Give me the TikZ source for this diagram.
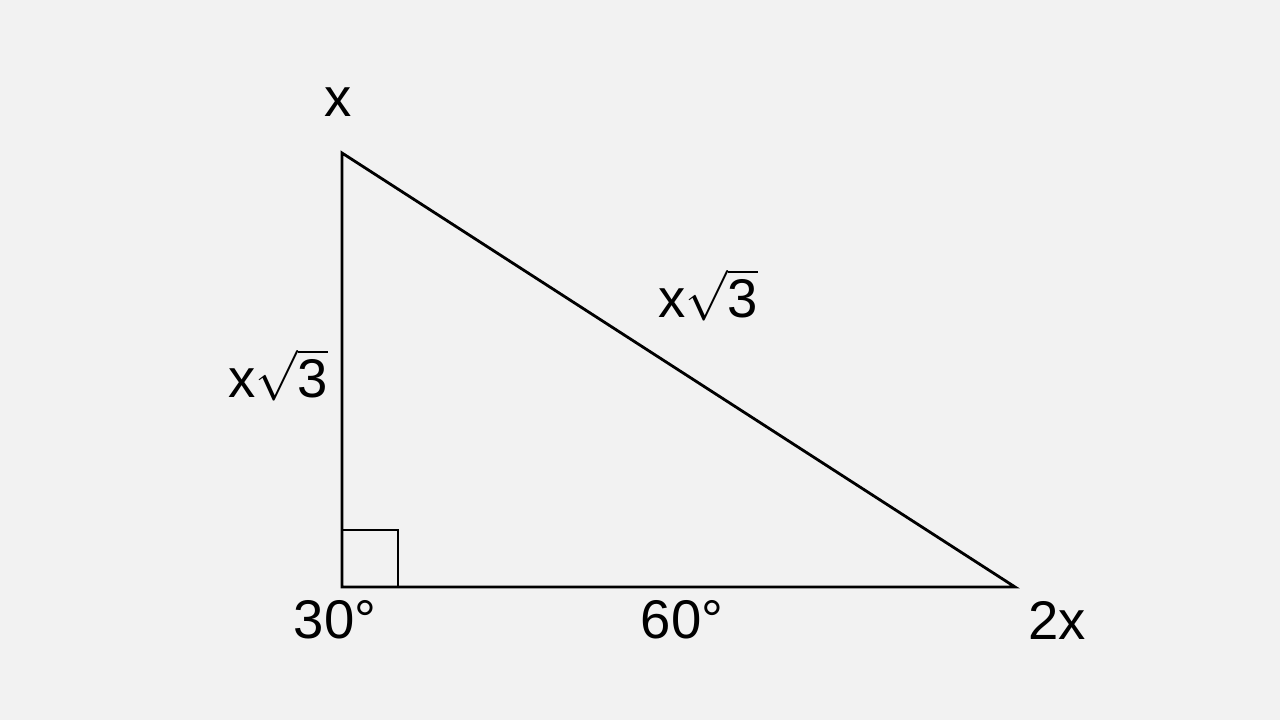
\documentclass[tikz,border=0pt]{standalone}
\usepackage{amsmath}
\usepackage{fontspec}
\setmainfont{Liberation Sans}
\usetikzlibrary{calc}
\definecolor{bgpaper}{HTML}{F2F2F2}

\begin{document}
\begin{tikzpicture}[scale=1.0,
    lbl/.style={font=\fontsize{15.5}{18}\selectfont, inner sep=0pt}]

    % Page background
    \fill[bgpaper] (0,0) rectangle (12.8,7.2);
    \useasboundingbox (0,0) rectangle (12.8,7.2);

    % Define coordinates for the corners
    \coordinate (A) at (3.42,5.67); % top
    \coordinate (B) at (3.42,1.33); % right angle
    \coordinate (C) at (10.15,1.33); % right end

    % Draw the triangle
    \draw[line width=0.8pt, line join=miter] (A) -- (B) -- (C) -- cycle;

    % Right angle mark
    \draw[line width=0.8pt] ($(B)+(0,0.57)$) -- ++(0.56,0) -- ++(0,-0.57);

    % Label the sides and corners
    \node[lbl] (lx) at (3.38,6.18) {x};
    \node[lbl] (lleft) at (2.78,3.45) {x$\sqrt{\mbox{3}}$};
    \node[lbl] (lhyp) at (7.08,4.25) {x$\sqrt{\mbox{3}}$};
    \node[lbl] (l30) at (3.35,1.00) {30°};
    \node[lbl] (l60) at (6.82,1.00) {60°};
    \node[lbl] (l2x) at (10.57,1.00) {2x};

\end{tikzpicture}
\end{document}
